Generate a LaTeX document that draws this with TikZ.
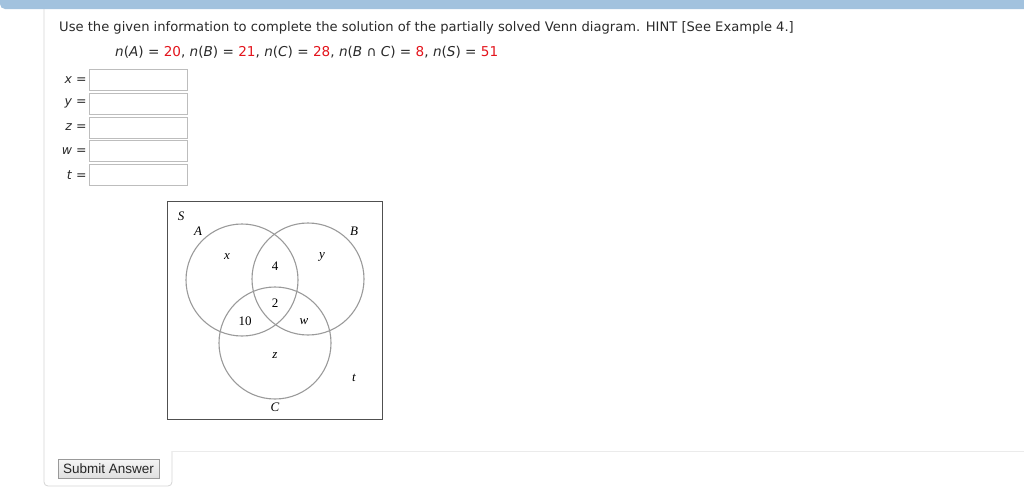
\documentclass[tikz,border=0pt]{standalone}
\usepackage{fontspec}
\setmainfont{DejaVu Sans}
\newfontfamily\vennfont{Liberation Serif}
\newfontfamily\btnfont{Liberation Sans}
\usepackage{xcolor}
\usepackage{tikz}
\usetikzlibrary{positioning}
\definecolor{barblue}{HTML}{A2C2DE}
\definecolor{panelgray}{HTML}{D4D4D4}
\definecolor{rulegray}{HTML}{EBEBEB}
\definecolor{givenred}{HTML}{E3141C}
\definecolor{txtgray}{HTML}{2A2A2A}
\definecolor{boxgray}{HTML}{BDBDBD}
\definecolor{ringgray}{HTML}{9A9A9A}
\definecolor{framegray}{HTML}{505050}
\newcommand{\given}[1]{\textcolor{givenred}{#1}}

\begin{document}
\begin{tikzpicture}[x=1pt,y=-1pt,
  prompt/.style={anchor=base west,inner sep=0pt,text=txtgray,font=\fontsize{13.1}{15}\selectfont},
  ansbox/.style={draw=boxgray,fill=white,minimum width=98pt,minimum height=21pt,inner sep=0pt},
  eqlabel/.style={inner sep=0pt,text=txtgray,font=\fontsize{12.5}{14}\selectfont},
  vcircle/.style={circle,draw=ringgray,line width=1.1pt,minimum size=112pt,inner sep=0pt},
  venntxt/.style={inner sep=0pt,font=\vennfont\fontsize{13}{15}\selectfont}]
  \useasboundingbox (0,0) rectangle (1024,499);
  \fill[barblue,rounded corners=5pt] (0,-10) rectangle (1030,9);
  \draw[panelgray,line width=0.8pt] (44,9) [rounded corners=4pt] -- (44,486) -- (172,486) [sharp corners] -- (172,451);
  \draw[rulegray,line width=1.6pt] (172,451.5) -- (1024,451.5);

  \node[prompt] (title) at (59,31) {Use the given information to complete the solution of the partially solved Venn diagram. HINT [See Example 4.]};
  \node[prompt,font=\fontsize{13.6}{15}\selectfont] (given) at (115,56) {\textit{n}(\textit{A}) = \given{20}, \textit{n}(\textit{B}) = \given{21}, \textit{n}(\textit{C}) = \given{28}, \textit{n}(\textit{B} ∩ \textit{C}) = \given{8}, \textit{n}(\textit{S}) = \given{51}};

  \node[ansbox] (boxx) at (138.5,80) {};
  \node[ansbox,below=2.3pt of boxx] (boxy) {};
  \node[ansbox,below=2.3pt of boxy] (boxz) {};
  \node[ansbox,below=2.3pt of boxz] (boxw) {};
  \node[ansbox,below=2.3pt of boxw] (boxt) {};
  \node[eqlabel,left=2.5pt of boxx] (lblx) {\textit{x} =};
  \node[eqlabel,left=2.5pt of boxy] (lbly) {\textit{y} =};
  \node[eqlabel,left=2.5pt of boxz] (lblz) {\textit{z} =};
  \node[eqlabel,left=2.5pt of boxw] (lblw) {\textit{w} =};
  \node[eqlabel,left=2.5pt of boxt] (lblt) {\textit{t} =};

  \draw[draw=framegray,line width=1pt] (167,201) rectangle (382,419);
  \node[vcircle] (circA) at (242,280) {};
  \node[vcircle] (circB) at (308,279) {};
  \node[vcircle] (circC) at (275,343) {};
  \node[venntxt] (lblS) at (181,216) {\textit{S}};
  \node[venntxt] (lblA) at (198,231) {\textit{A}};
  \node[venntxt] (lblB) at (354,231) {\textit{B}};
  \node[venntxt] (lblC) at (275,407) {\textit{C}};
  \node[venntxt] (valx) at (227,257) {\textit{x}};
  \node[venntxt] (valy) at (322,257) {\textit{y}};
  \node[venntxt] (valAB) at (275,266) {4};
  \node[venntxt] (valABC) at (275,303) {2};
  \node[venntxt] (valAC) at (245,321) {10};
  \node[venntxt] (valw) at (304,322) {\textit{w}};
  \node[venntxt] (valz) at (275,356) {\textit{z}};
  \node[venntxt] (valt) at (354,378) {\textit{t}};

  \node[draw=gray!80,top color=gray!8,bottom color=gray!25,minimum width=101pt,minimum height=19pt,inner sep=0pt,
    font=\btnfont\fontsize{13.5}{15}\selectfont,text=black!85] (submit) at (108.5,468.5) {Submit Answer};
\end{tikzpicture}
\end{document}
